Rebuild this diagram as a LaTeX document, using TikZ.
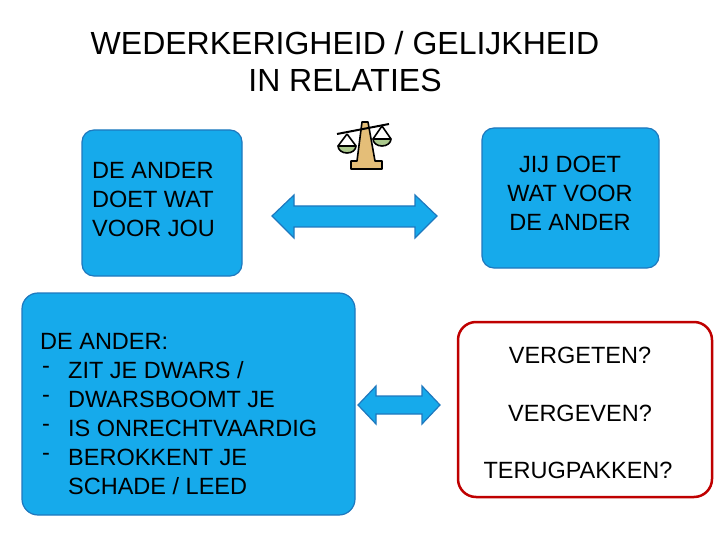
\documentclass[tikz,border=0pt]{standalone}
\usepackage{fontspec}
\setmainfont{Liberation Sans}
\definecolor{bfill}{RGB}{22,170,235}
\definecolor{bline}{RGB}{30,120,190}
\definecolor{tan}{RGB}{228,190,120}
\definecolor{pan}{RGB}{170,200,140}
\begin{document}
\begin{tikzpicture}[x=1pt,y=-1pt,
  bluebox/.style={draw=bline,line width=1.2pt,fill=bfill,rounded corners=12pt},
  redbox/.style={draw=red!75!black,line width=2.5pt,fill=white,rounded corners=18pt},
  txt/.style={font=\fontsize{23.5}{29}\selectfont,inner sep=0pt},
  dblarrow/.style={draw=bline,line width=1.2pt,fill=bfill}]
\useasboundingbox (0,0) rectangle (720,540);
\node[font=\fontsize{32}{37}\selectfont,align=center] (title) at (345,62) {WEDERKERIGHEID / GELIJKHEID\\IN RELATIES};
% boxes
\draw[bluebox] (82,130) rectangle (242,276);
\node[txt,align=left,anchor=north west] (b1) at (92,162) {DE ANDER\\DOET WAT\\VOOR JOU};
\draw[bluebox] (482,128) rectangle (659,268);
\node[txt,align=center] (b2) at (570,193) {JIJ DOET\\WAT VOOR\\DE ANDER};
\draw[bluebox,rounded corners=16pt] (22,293) rectangle (355,515);
\node[txt,anchor=west] (l0) at (40,341) {DE ANDER:};
\foreach \y/\t [count=\i] in {370/{ZIT JE DWARS /},399/DWARSBOOMT JE,428/IS ONRECHTVAARDIG,457/BEROKKENT JE}{
  \node[txt,anchor=west] (d\i) at (42,\y) {-};
  \node[txt,anchor=west] (l\i) at (68,\y) {\t};}
\node[txt,anchor=west] (l5) at (68,486) {SCHADE / LEED};
\draw[redbox] (458,322) rectangle (712,497);
\node[txt] (r1) at (580,355) {VERGETEN?};
\node[txt] (r2) at (580,413) {VERGEVEN?};
\node[txt] (r3) at (578,470) {TERUGPAKKEN?};
% arrows
\draw[dblarrow] (272,216) -- (294,195) -- (294,206) -- (415,206) -- (415,195) -- (437,216) -- (415,238) -- (415,227) -- (294,227) -- (294,238) -- cycle;
\draw[dblarrow] (358,405) -- (376,386) -- (376,396) -- (422,396) -- (422,386) -- (440,405) -- (422,424) -- (422,414) -- (376,414) -- (376,424) -- cycle;
% scale
\begin{scope}[line width=1.6pt,line join=round]
\draw[fill=tan] (362,122) -- (368,122) -- (375,161) -- (382,161) -- (382,169) -- (351,169) -- (351,161) -- (357,161) -- cycle;
\draw[line width=2pt] (337,134) -- (389,124);
\draw[fill=pan] (338,146) -- (356,146) arc (0:180:9 and 7) -- cycle;
\draw (347,134) -- (338,146) (347,134) -- (356,146);
\draw[fill=pan] (373,139) -- (391,139) arc (0:180:9 and 7) -- cycle;
\draw (382,126) -- (373,139) (382,126) -- (391,139);
\end{scope}
\end{tikzpicture}
\end{document}
